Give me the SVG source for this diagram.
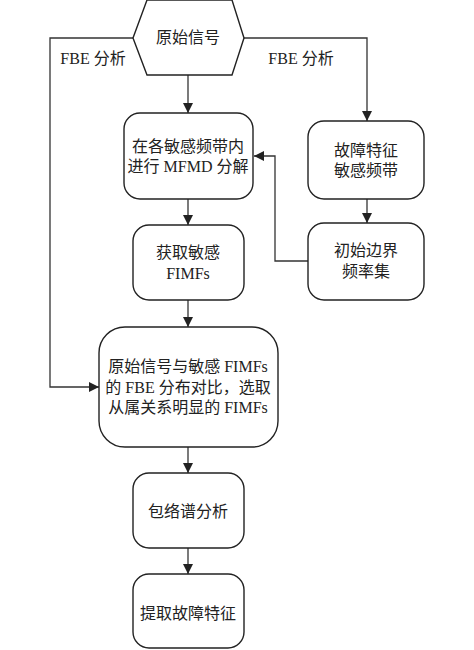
<svg xmlns="http://www.w3.org/2000/svg" width="474" height="650" viewBox="0 0 474 650">
<style>
.box{fill:#fff;stroke:#222;stroke-width:1.4}
.t{font-family:"Liberation Serif","Noto Sans CJK SC",serif;font-size:16px;fill:#222;text-anchor:middle;dominant-baseline:central}
.c{fill:none;stroke:#333;stroke-width:1.3}
</style>
<defs>
<marker id="ah" viewBox="0 0 10 10" refX="10" refY="5" markerWidth="10" markerHeight="10" markerUnits="userSpaceOnUse" orient="auto">
<path d="M0,0 L10,5 L0,10 z" fill="#222"/>
</marker>
</defs>
<rect width="474" height="650" fill="#fff"/>
<g id="connectors">
<path class="c" d="M133,38 H50 V387 H99" marker-end="url(#ah)"/>
<path class="c" d="M244,38 H367 V121" marker-end="url(#ah)"/>
<path class="c" d="M188,75 V113" marker-end="url(#ah)"/>
<path class="c" d="M367,199 V223" marker-end="url(#ah)"/>
<path class="c" d="M308,261 H275 V156 H254" marker-end="url(#ah)"/>
<path class="c" d="M188,199 V225" marker-end="url(#ah)"/>
<path class="c" d="M188,300 V327" marker-end="url(#ah)"/>
<path class="c" d="M188,447 V473" marker-end="url(#ah)"/>
<path class="c" d="M188,548 V574" marker-end="url(#ah)"/>
<text class="t" x="93" y="58">FBE 分析</text>
<text class="t" x="301" y="58">FBE 分析</text>
</g>
<g id="n-signal">
<polygon class="box" points="133,38 147,0 232,0 244,38 232,75 147,75"/>
<text class="t" x="188" y="37">原始信号</text>
</g>
<g id="n-mfmd">
<rect class="box" x="124" y="113" width="129" height="86" rx="16"/>
<text class="t" x="188" y="146">在各敏感频带内</text>
<text class="t" x="188" y="166">进行 MFMD 分解</text>
</g>
<g id="n-band">
<rect class="box" x="308" y="121" width="116" height="78" rx="16"/>
<text class="t" x="366" y="150">故障特征</text>
<text class="t" x="366" y="170">敏感频带</text>
</g>
<g id="n-init">
<rect class="box" x="308" y="223" width="116" height="77" rx="16"/>
<text class="t" x="366" y="250">初始边界</text>
<text class="t" x="366" y="271">频率集</text>
</g>
<g id="n-get">
<rect class="box" x="133" y="225" width="111" height="75" rx="16"/>
<text class="t" x="188" y="252">获取敏感</text>
<text class="t" x="188" y="273">FIMFs</text>
</g>
<g id="n-compare">
<rect class="box" x="99" y="327" width="179" height="120" rx="26"/>
<text class="t" x="188" y="366">原始信号与敏感 FIMFs</text>
<text class="t" x="188" y="387">的 FBE 分布对比，选取</text>
<text class="t" x="188" y="407">从属关系明显的 FIMFs</text>
</g>
<g id="n-env">
<rect class="box" x="133" y="473" width="111" height="75" rx="16"/>
<text class="t" x="188" y="511">包络谱分析</text>
</g>
<g id="n-extract">
<rect class="box" x="133" y="574" width="111" height="74" rx="16"/>
<text class="t" x="188" y="613">提取故障特征</text>
</g>
</svg>
